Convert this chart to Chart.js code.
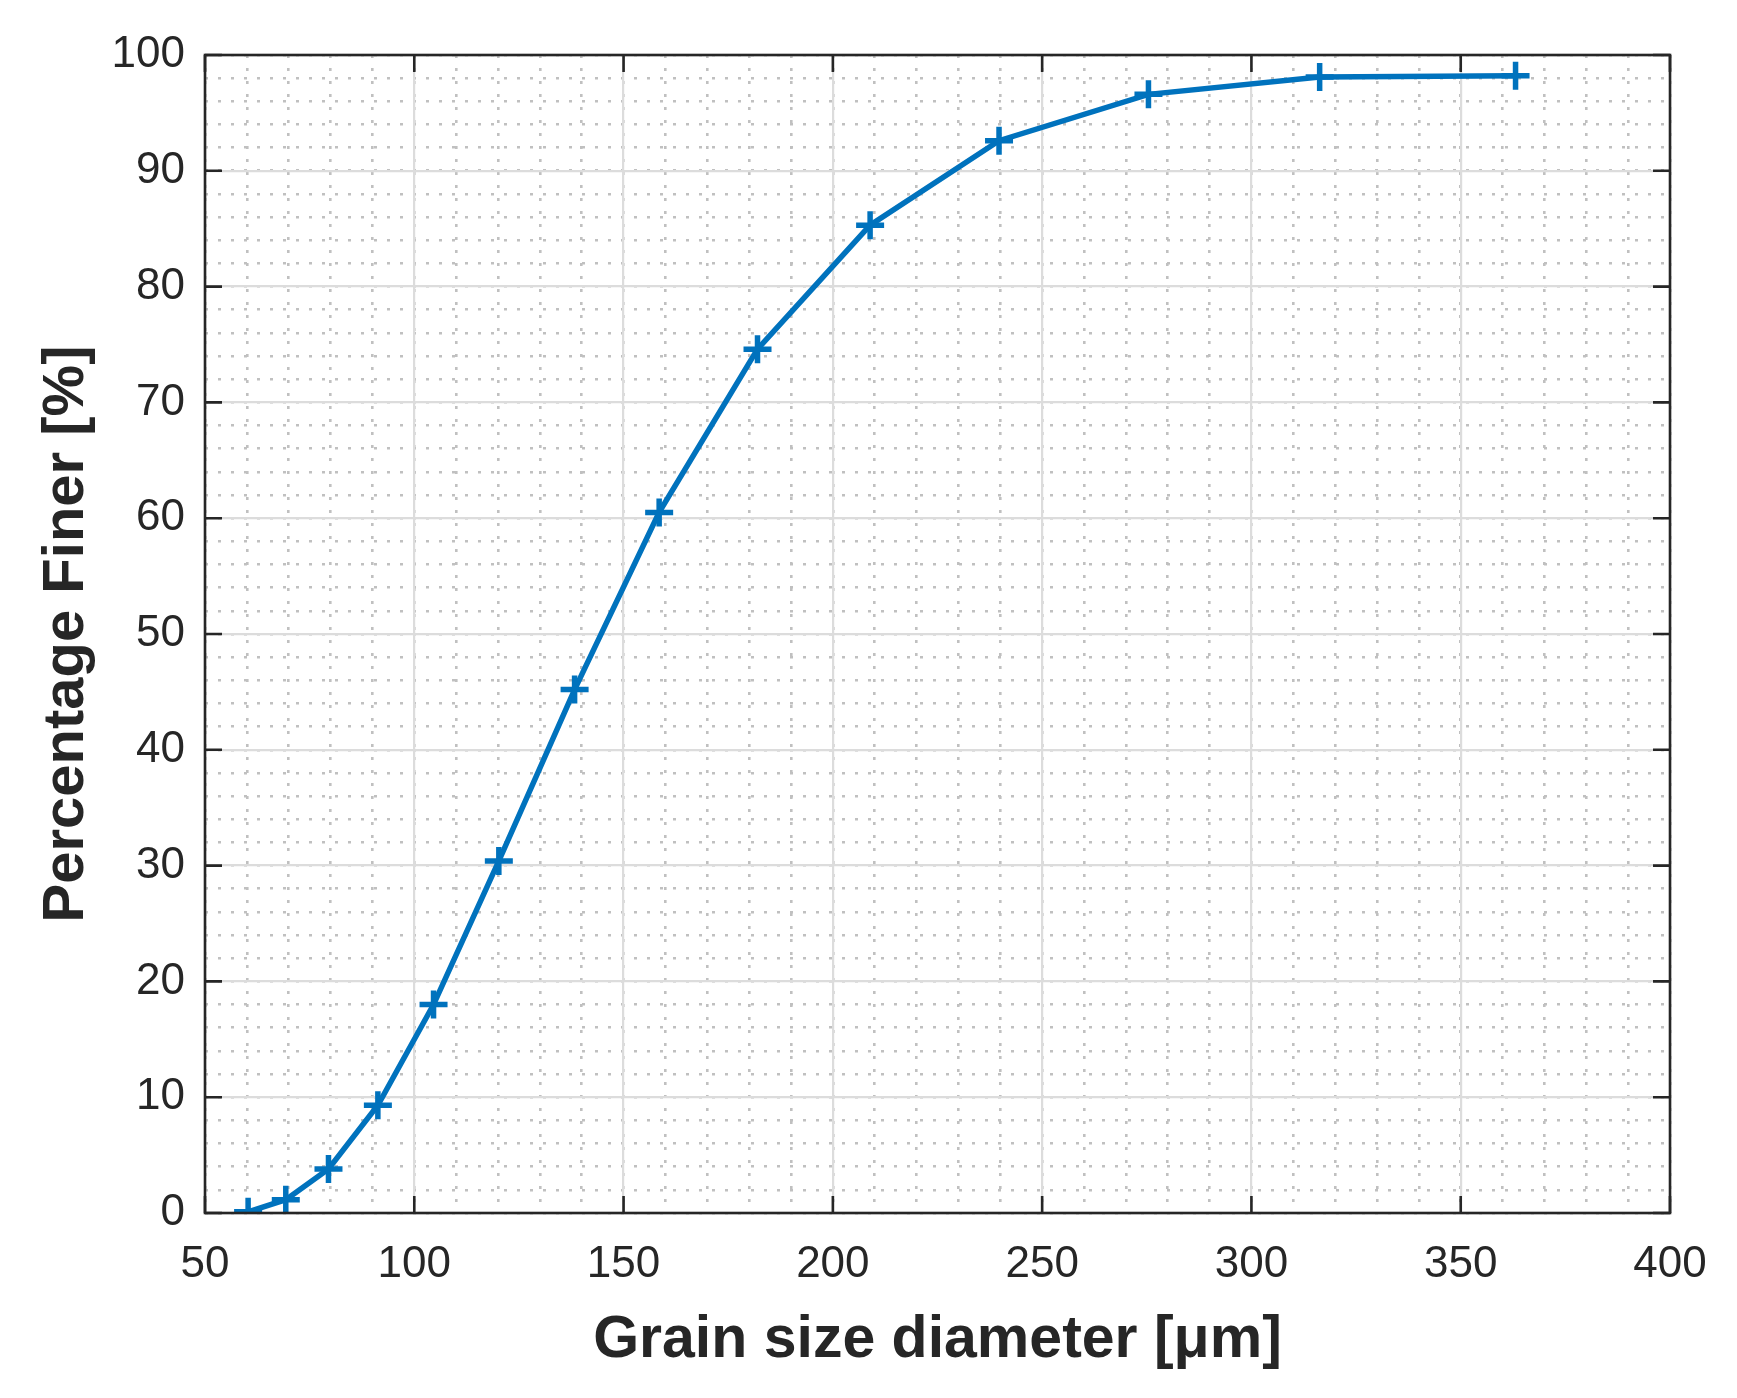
<!DOCTYPE html>
<html>
<head>
<meta charset="utf-8">
<title>Grain size distribution</title>
<script src="https://cdn.jsdelivr.net/npm/chart.js@4.4.1/dist/chart.umd.min.js"></script>
<style>
    html, body { margin: 0; padding: 0; background: #ffffff; }
    #wrap { width: 1737px; height: 1398px; }
</style>
</head>
<body>
<div id="wrap"><canvas id="sieveChart" width="1737" height="1398"></canvas></div>
<script>
"use strict";

// grain size diameter in micrometres
var grainSize = [60.3, 69.3, 79.5, 91.3, 104.6, 120.2, 138.3, 158.5, 182.0, 208.9, 239.7, 275.4, 316.3, 363.1];
// cumulative percentage finer
var percentFiner = [0.1, 1.15, 3.8, 9.3, 18.0, 30.4, 45.2, 60.5, 74.6, 85.3, 92.6, 96.6, 98.1, 98.2];

var xTickValues = [50, 100, 150, 200, 250, 300, 350, 400];
var yTickValues = [0, 10, 20, 30, 40, 50, 60, 70, 80, 90, 100];

var axisColor = '#262626';
var fontFamily = '"Liberation Sans", Arial, Helvetica, sans-serif';

/* box round the axes with inward ticks on all four sides */
var boxPlugin = {
    id: 'boxPlugin',
    afterDraw: function(chart) {
        var ctx = chart.ctx;
        var area = chart.chartArea;
        var xs = chart.scales.x;
        var ys = chart.scales.y;
        var tick = 17;
        ctx.save();
        ctx.strokeStyle = axisColor;
        ctx.lineWidth = 2.6;
        ctx.beginPath();
        xTickValues.forEach(function(v) {
            var px = xs.getPixelForValue(v);
            ctx.moveTo(px, area.bottom);
            ctx.lineTo(px, area.bottom - tick);
            ctx.moveTo(px, area.top);
            ctx.lineTo(px, area.top + tick);
        });
        yTickValues.forEach(function(v) {
            var py = ys.getPixelForValue(v);
            ctx.moveTo(area.left, py);
            ctx.lineTo(area.left + tick, py);
            ctx.moveTo(area.right, py);
            ctx.lineTo(area.right - tick, py);
        });
        ctx.stroke();
        ctx.strokeRect(area.left, area.top, area.right - area.left, area.bottom - area.top);
        ctx.restore();
    }
};

var points = grainSize.map(function(d, i) {
    return { x: d, y: percentFiner[i] };
});

var ctx = document.getElementById('sieveChart').getContext('2d');
var sieveChart = new Chart(ctx, {
    type: 'scatter',
    data: {
        datasets: [{
            label: 'Percentage Finer',
            data: points,
            showLine: true,
            borderColor: '#0072BD',
            backgroundColor: '#0072BD',
            borderWidth: 5.5,
            tension: 0,
            pointStyle: 'cross',
            pointRadius: 14,
            pointBorderWidth: 5.5,
            pointBorderColor: '#0072BD',
            pointHoverRadius: 14
        }]
    },
    options: {
        responsive: false,
        devicePixelRatio: 1,
        animation: false,
        layout: {
            padding: { left: 0, top: 55, right: 67, bottom: 0 }
        },
        plugins: {
            legend: { display: false },
            tooltip: { enabled: false }
        },
        scales: {
            xMinor: {
                type: 'linear',
                position: 'bottom',
                min: 50,
                max: 400,
                ticks: { display: false, stepSize: 10 },
                grid: { color: '#c0c0c0', lineWidth: 2.6, drawTicks: false, z: -1 },
                border: { display: false, dash: [3, 10] },
                afterFit: function(scale) { scale.height = 0; }
            },
            yMinor: {
                type: 'linear',
                position: 'left',
                min: 0,
                max: 100,
                ticks: { display: false, stepSize: 2 },
                grid: { color: '#c0c0c0', lineWidth: 2.6, drawTicks: false, z: -1 },
                border: { display: false, dash: [3, 10] },
                afterFit: function(scale) { scale.width = 0; }
            },
            x: {
                type: 'linear',
                position: 'bottom',
                min: 50,
                max: 400,
                afterBuildTicks: function(scale) {
                    scale.ticks = xTickValues.map(function(v) { return { value: v }; });
                },
                ticks: {
                    color: axisColor,
                    font: { family: fontFamily, size: 44 },
                    padding: 25,
                    maxRotation: 0
                },
                grid: { color: '#dcdcdc', lineWidth: 2.2, drawTicks: false },
                border: { display: false },
                title: {
                    display: true,
                    text: 'Grain size diameter [\u03bcm]',
                    color: axisColor,
                    font: { family: fontFamily, size: 59, weight: 'bold' },
                    padding: { top: 0, bottom: 22 }
                },
                afterFit: function(scale) { scale.height = 185; }
            },
            y: {
                type: 'linear',
                position: 'left',
                min: 0,
                max: 100,
                afterBuildTicks: function(scale) {
                    scale.ticks = yTickValues.map(function(v) { return { value: v }; });
                },
                ticks: {
                    color: axisColor,
                    font: { family: fontFamily, size: 44 },
                    padding: 20
                },
                grid: { color: '#dcdcdc', lineWidth: 2.2, drawTicks: false },
                border: { display: false },
                title: {
                    display: true,
                    text: 'Percentage Finer [%]',
                    color: axisColor,
                    font: { family: fontFamily, size: 58, weight: 'bold' },
                    padding: { top: 32, bottom: 0 }
                },
                afterFit: function(scale) { scale.width = 205; }
            }
        }
    },
    plugins: [boxPlugin]
});
</script>
</body>
</html>
